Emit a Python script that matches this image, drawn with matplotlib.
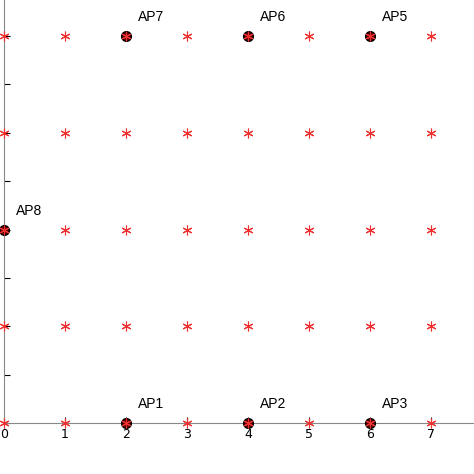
import matplotlib
matplotlib.use("Agg")
import matplotlib.pyplot as plt
import numpy as np

grid_x = [0, 1, 2, 3, 4, 5, 6, 7, 8]
grid_y = [0, 1, 2, 3, 4]
ap_names = ["AP1", "AP2", "AP3", "AP5", "AP6", "AP7", "AP8"]
ap_x = [2, 4, 6, 6, 4, 2, 0]
ap_y = [0, 0, 0, 4, 4, 4, 2]
xticks = [0, 1, 2, 3, 4, 5, 6, 7]
yticks = [0, 0.5, 1, 1.5, 2, 2.5, 3, 3.5, 4]

fig = plt.figure(figsize=(4.74, 4.74), dpi=100)
x0 = 4 / 474; y0 = (474 - 423) / 474
w = 8.5 * 61 / 474; h = 4.6 * 96.75 / 474
ax = fig.add_axes([x0, y0, w, h])
ax.set_xlim(0, 8.5); ax.set_ylim(0, 4.6)

ax.plot(ap_x, ap_y, linestyle="none", marker="o", markerfacecolor="#5a0000",
        markeredgecolor="black", markersize=7, zorder=3, clip_on=False)
gx, gy = np.meshgrid(grid_x, grid_y)
ax.plot(gx.ravel(), gy.ravel(), linestyle="none", marker=(6, 2, 0), color="#ee3030",
        markersize=7, markeredgewidth=0.8, zorder=4, clip_on=False)
for n, x, y in zip(ap_names, ap_x, ap_y):
    ax.text(x + 0.2, y + 0.12, n, fontsize=10, family="Liberation Sans", ha="left", va="bottom")

ax.set_xticks(xticks); ax.set_yticks(yticks)
ax.set_yticklabels([])
ax.tick_params(direction="in", length=4, labelsize=9, colors="black")
for s in ["top", "right"]:
    ax.spines[s].set_visible(False)
for s in ["left", "bottom"]:
    ax.spines[s].set_color("#888888")
fig.savefig("out.png", dpi=100)
